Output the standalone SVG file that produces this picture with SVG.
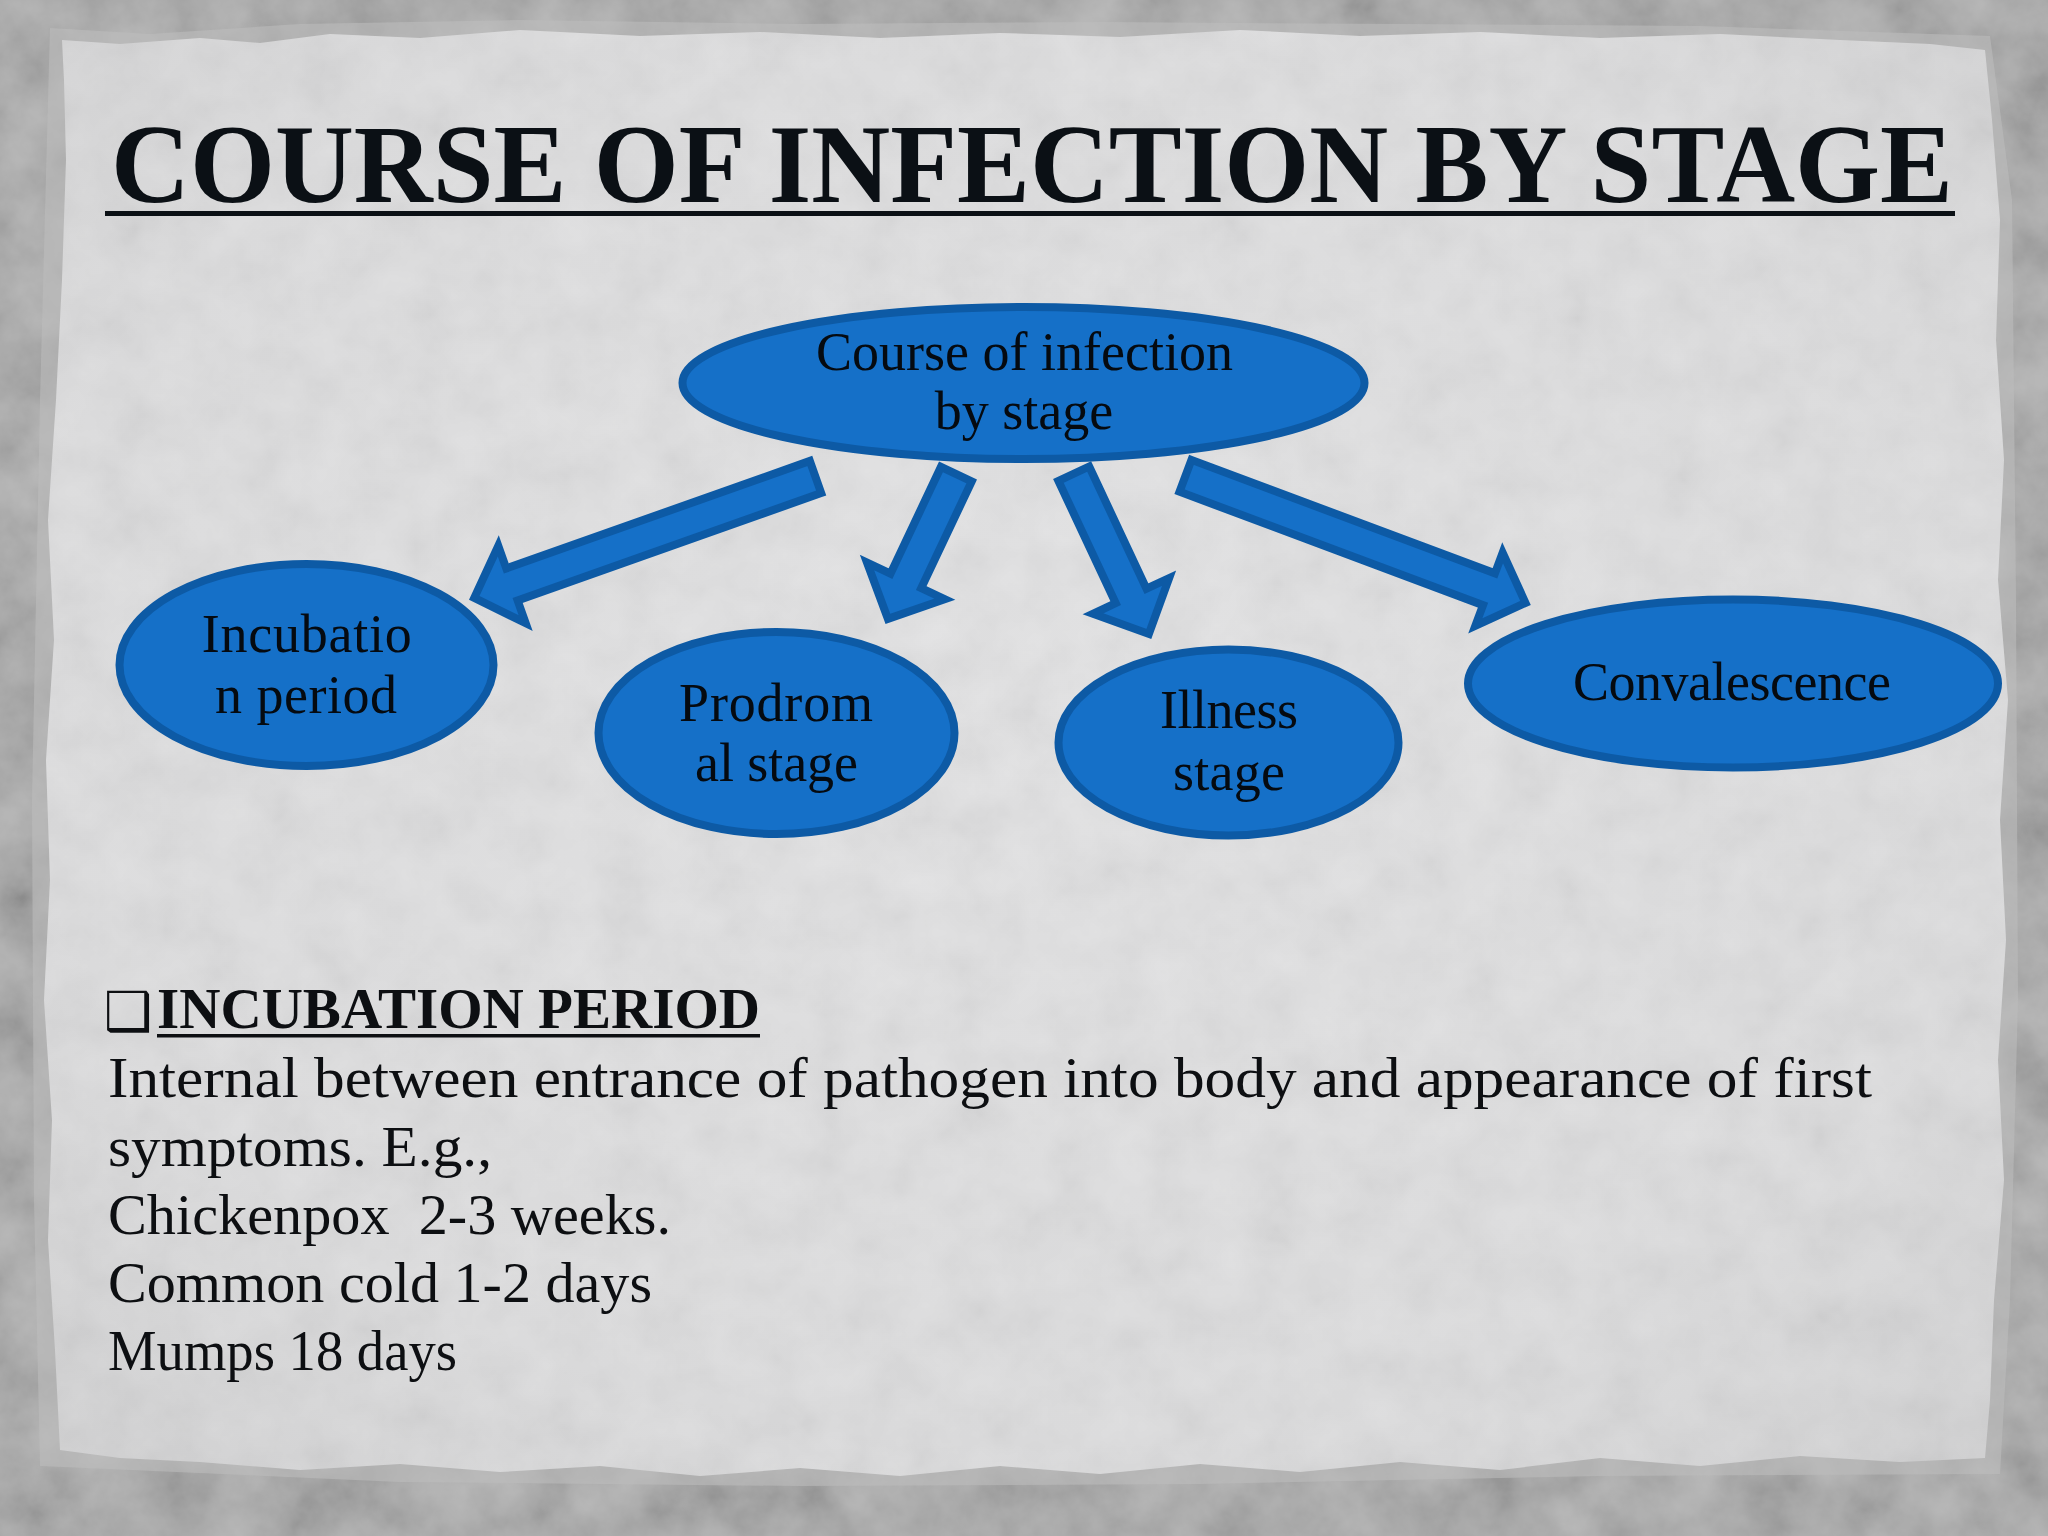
<svg xmlns="http://www.w3.org/2000/svg" width="2048" height="1536" viewBox="0 0 2048 1536">
  <defs>
    <style>
      .node { fill: #1570c8; stroke: #0d5aa5; stroke-width: 8; }
      .arrow { fill: #1570c8; stroke: #0d5aa5; stroke-width: 8; stroke-linejoin: miter; stroke-miterlimit: 10; }
      .ntext { font-family: "Liberation Serif", "Times New Roman", serif; font-size: 54px; fill: #050a10; text-anchor: middle; }
      .body { font-family: "Liberation Serif", "Times New Roman", serif; font-size: 58px; fill: #0d0f12; }
      .title { font-family: "Liberation Serif", "Times New Roman", serif; font-weight: bold; font-size: 112px; fill: #0b1015; }
    </style>
    <filter id="grainOuter" x="0" y="0" width="100%" height="100%">
      <feTurbulence type="fractalNoise" baseFrequency="0.015" numOctaves="5" seed="7"/>
      <feColorMatrix type="matrix" values="1 0 0 0 0  1 0 0 0 0  1 0 0 0 0  0 0 0 0 0.28"/>
    </filter>
    <filter id="grainPaper" x="0" y="0" width="100%" height="100%">
      <feTurbulence type="fractalNoise" baseFrequency="0.02" numOctaves="4" seed="11"/>
      <feColorMatrix type="matrix" values="1 0 0 0 0  1 0 0 0 0  1 0 0 0 0  0 0 0 0 0.08"/>
    </filter>
    <clipPath id="paperClip">
      <path id="paperShape" d="M62,40 L120,44 L200,38 L260,43 L330,34 L420,38 L520,30 L640,36 L760,32 L880,38 L1000,33 L1120,37 L1240,30 L1360,36 L1480,32 L1600,38 L1720,34 L1840,40 L1930,44 L1985,50 L1992,120 L2000,220 L1996,340 L2004,460 L1998,580 L2008,700 L2000,820 L2006,940 L1998,1060 L2004,1180 L1994,1300 L1990,1400 L1985,1458 L1900,1462 L1800,1456 L1700,1466 L1600,1458 L1500,1470 L1400,1462 L1300,1472 L1200,1464 L1100,1474 L1000,1466 L900,1476 L800,1468 L700,1476 L600,1466 L500,1472 L400,1464 L300,1470 L200,1462 L120,1458 L60,1450 L55,1350 L48,1240 L52,1120 L44,1000 L50,880 L46,760 L54,640 L48,520 L56,400 L62,280 L66,160 L64,80 Z"/>
    </clipPath>
    <radialGradient id="paperGrad" cx="50%" cy="45%" r="70%">
      <stop offset="0" stop-color="#e2e2e3"/>
      <stop offset="0.7" stop-color="#dcdcdd"/>
      <stop offset="1" stop-color="#d0d0d1"/>
    </radialGradient>
  </defs>

  <!-- background -->
  <g id="background">
    <rect x="0" y="0" width="2048" height="1536" fill="#a4a4a4"/>
    <rect x="0" y="0" width="2048" height="1536" filter="url(#grainOuter)"/>
    <path d="M50,28 L150,34 L300,24 L520,20 L800,24 L1100,22 L1400,24 L1700,26 L1990,36 L2012,200 L2016,600 L2018,1000 L2010,1300 L2000,1474 L1600,1476 L1200,1484 L800,1486 L400,1482 L40,1466 L34,1200 L32,800 L40,400 L48,100 Z" fill="#bcbcbc" opacity="0.6"/>
    <g clip-path="url(#paperClip)">
      <rect x="0" y="0" width="2048" height="1536" fill="url(#paperGrad)"/>
      <rect x="0" y="0" width="2048" height="1536" filter="url(#grainPaper)"/>
    </g>
  </g>

  <!-- title -->
  <g id="title">
    <text class="title" x="111" y="202" textLength="1842" lengthAdjust="spacingAndGlyphs">COURSE OF INFECTION BY STAGE</text>
    <rect x="105" y="211" width="1850" height="5" fill="#0b1015"/>
  </g>

  <!-- connectors -->
  <g id="connectors">
    <path class="arrow" d="M0,-17 L322,-17 L322,-41 L362,0 L322,41 L322,17 L0,17 Z" transform="translate(815.5,477) rotate(160.5)"/>
    <path class="arrow" d="M0,-17 L118,-17 L118,-43 L160,0 L118,43 L118,17 L0,17 Z" transform="translate(956.3,474.2) rotate(115.3)"/>
    <path class="arrow" d="M0,-17 L135,-17 L135,-42 L177,0 L135,42 L135,17 L0,17 Z" transform="translate(1073.8,473.7) rotate(64.9)"/>
    <path class="arrow" d="M0,-17 L324,-17 L324,-39 L363,0 L324,39 L324,17 L0,17 Z" transform="translate(1185.5,475.8) rotate(20.5)"/>
  </g>

  <!-- nodes -->
  <g id="node-root">
    <ellipse class="node" cx="1023.5" cy="383" rx="341" ry="76"/>
    <text class="ntext" x="1024.5" y="370" textLength="417">Course of infection</text>
    <text class="ntext" x="1024" y="429">by stage</text>
  </g>
  <g id="node-incubation">
    <ellipse class="node" cx="306.5" cy="665" rx="187" ry="101"/>
    <text class="ntext" x="306.7" y="652" textLength="210">Incubatio</text>
    <text class="ntext" x="306" y="713" textLength="182">n period</text>
  </g>
  <g id="node-prodromal">
    <ellipse class="node" cx="776.5" cy="733" rx="178" ry="101"/>
    <text class="ntext" x="776" y="721" textLength="194">Prodrom</text>
    <text class="ntext" x="776.5" y="781" textLength="163">al stage</text>
  </g>
  <g id="node-illness">
    <ellipse class="node" cx="1228.5" cy="742.5" rx="170" ry="93"/>
    <text class="ntext" x="1229" y="728" textLength="138">Illness</text>
    <text class="ntext" x="1229" y="790" textLength="112">stage</text>
  </g>
  <g id="node-convalescence">
    <ellipse class="node" cx="1733" cy="683.5" rx="265" ry="84"/>
    <text class="ntext" x="1732" y="700" textLength="318">Convalescence</text>
  </g>

  <!-- body text -->
  <g id="body-text">
    <text x="104" y="1030" font-family="DejaVu Sans, sans-serif" font-size="54" fill="#0d0f12">❑</text>
    <text class="body" x="157" y="1028" font-weight="bold" textLength="603" lengthAdjust="spacingAndGlyphs">INCUBATION PERIOD</text>
    <rect x="157" y="1034" width="603" height="3.5" fill="#0d0f12"/>
    <text class="body" x="108" y="1097" textLength="1764" lengthAdjust="spacingAndGlyphs">Internal between entrance of pathogen into body and appearance of first</text>
    <text class="body" x="108" y="1166" textLength="384" lengthAdjust="spacingAndGlyphs">symptoms. E.g.,</text>
    <text class="body" x="108" y="1234" xml:space="preserve" textLength="563" lengthAdjust="spacingAndGlyphs">Chickenpox  2-3 weeks.</text>
    <text class="body" x="108" y="1302" textLength="544" lengthAdjust="spacingAndGlyphs">Common cold 1-2 days</text>
    <text class="body" x="108" y="1370" textLength="349" lengthAdjust="spacingAndGlyphs">Mumps 18 days</text>
  </g>
</svg>
